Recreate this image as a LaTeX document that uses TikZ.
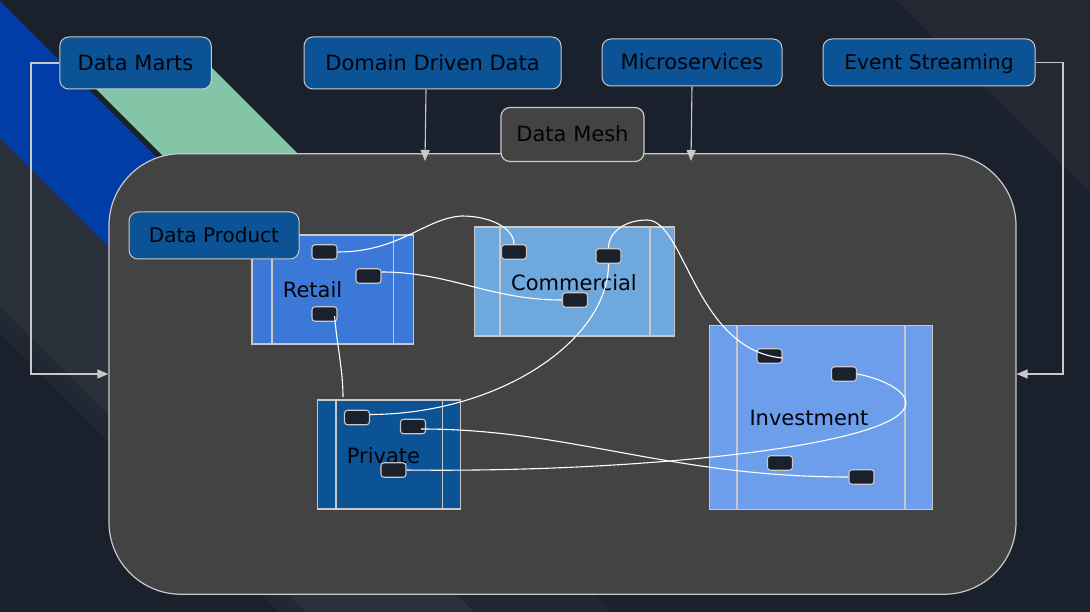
\documentclass[tikz,border=0pt]{standalone}
\usepackage{fontspec}
\setmainfont{DejaVu Sans}
\usetikzlibrary{arrows.meta}
\definecolor{Page}{HTML}{1a202c}
\definecolor{BandA}{HTML}{2a313b}
\definecolor{BandB}{HTML}{222833}
\definecolor{BandC}{HTML}{20262f}
\definecolor{Corner}{HTML}{232833}
\definecolor{Stripe}{HTML}{003da6}
\definecolor{Mint}{HTML}{83c5a6}
\definecolor{Mesh}{HTML}{434343}
\definecolor{Edge}{HTML}{c8c8c8}
\definecolor{Deep}{HTML}{0b5394}
\definecolor{Retail}{HTML}{3c78d8}
\definecolor{Commercial}{HTML}{6fa8dc}
\definecolor{Investment}{HTML}{6d9eeb}
\definecolor{Ink}{HTML}{020308}

\begin{document}
\begin{tikzpicture}[
    x=1pt, y=-1pt,
    >={Triangle[length=11pt, width=9pt]},
    every node/.style={font=\fontsize{21}{25}\selectfont, text=Ink, text height=15.5pt, text depth=0.5pt},
    smallText/.style={font=\fontsize{20.3}{25}\selectfont},
    topKey/.style={draw=Edge, line width=1pt, rounded corners=9pt, fill=Deep, inner sep=0pt},
    meshKey/.style={draw=Edge, line width=1.2pt, rounded corners=9pt, fill=Mesh, inner sep=0pt},
    laneBox/.style={draw=Edge, line width=1.2pt, fill=#1, inner sep=0pt},
    laneLine/.style={draw=Edge, line width=1.1pt},
    portKey/.style={draw=Edge, line width=1.1pt, rounded corners=3pt, fill=Page, minimum width=25pt, minimum height=14.5pt, inner sep=0pt, text height=, text depth=},
    flow/.style={draw=Edge, line width=1.1pt, ->},
    wire/.style={draw=white, line width=1.1pt},
  ]
  \useasboundingbox (0,0) rectangle (1090,612);
  % background
  \fill[Page] (0,0) rectangle (1090,612);
  \fill[BandC] (0,0) -- (612,612) -- (474,612) -- (0,138) -- cycle;
  \fill[BandA] (0,138) -- (474,612) -- (305,612) -- (0,307) -- cycle;
  \fill[BandB] (0,307) -- (305,612) -- (279,612) -- (0,333) -- cycle;
  \fill[Corner] (896,0) -- (1090,0) -- (1090,192) -- cycle;
  \fill[Mint] (181,37) -- (320,176) -- (183,176) -- (77,70) -- cycle;
  \fill[Stripe] (0,1) -- (250,251) -- (150,288) -- (0,138) -- cycle;

  % outer box
  \node[meshKey, rounded corners=72pt, minimum width=907pt, minimum height=440.5pt] (meshBox) at (562.5,374) {};

  % sources
  \node[topKey, minimum width=151.5pt, minimum height=52pt] (dataMarts) at (135.5,63) {Data Marts};
  \node[topKey, minimum width=257pt, minimum height=52pt] (domainData) at (432.5,63) {Domain Driven Data};
  \node[topKey, minimum width=180pt, minimum height=47pt] (microServices) at (692,62.5) {Microservices};
  \node[topKey, smallText, minimum width=212pt, minimum height=47pt] (eventStream) at (929,62.5) {Event Streaming};
  \node[meshKey, minimum width=143pt, minimum height=54pt] (dataMesh) at (572.5,134.5) {Data Mesh};

  % lanes
  \node[laneBox=Retail, minimum width=161.5pt, minimum height=109pt] (retail) at (332.75,289.5) {};
  \node[laneBox=Commercial, minimum width=200pt, minimum height=109pt] (commercial) at (574.75,281.5) {};
  \node[laneBox=Deep, minimum width=143pt, minimum height=109pt] (private) at (389,454.5) {};
  \node[laneBox=Investment, minimum width=223pt, minimum height=184pt] (investment) at (821,417.25) {};
  \draw[laneLine] (272,235) -- (272,344);
  \draw[laneLine] (393.5,235) -- (393.5,344);
  \draw[laneLine] (500,227) -- (500,336);
  \draw[laneLine] (650,227) -- (650,336);
  \draw[laneLine] (336,400) -- (336,509);
  \draw[laneLine] (442.5,400) -- (442.5,509);
  \draw[laneLine] (737,325) -- (737,509);
  \draw[laneLine] (905,325) -- (905,509);
  \node (retailLabel) at (312.5,290) {Retail};
  \node (commercialLabel) at (574,283) {Commercial};
  \node (privateLabel) at (383.5,456) {Private};
  \node (investmentLabel) at (809,418) {Investment};

  % ports
  \node[portKey] (retailA) at (324.5,252) {};
  \node[portKey] (retailB) at (368.5,276) {};
  \node[portKey] (retailC) at (324.5,314) {};
  \node[portKey] (commercialA) at (514,252) {};
  \node[portKey] (commercialB) at (608.5,256) {};
  \node[portKey] (commercialC) at (575,300) {};
  \node[portKey] (privateA) at (357,417.5) {};
  \node[portKey] (privateB) at (413,426.5) {};
  \node[portKey] (privateC) at (393.5,470) {};
  \node[portKey] (investA) at (769.5,356) {};
  \node[portKey] (investB) at (844,374) {};
  \node[portKey] (investC) at (780,463) {};
  \node[portKey] (investD) at (861.5,477) {};

  % wires
  \coordinate (retailEnd) at (343,397);
  \draw[wire] (retailA.east) .. controls (400,252) and (425,218) .. (462,216)
    .. controls (490,216) and (514,228) .. (commercialA.north);
  \draw[wire] ([yshift=4pt]retailB.east) .. controls (450,272) and (490,300) .. (commercialC.west);
  \draw[wire] ([xshift=-3pt,yshift=-2pt]retailC.east) .. controls (337,345) and (343,370) .. (retailEnd);
  \draw[wire] ([yshift=3pt]privateA.east) .. controls (500,414) and (608.5,340) .. (commercialB.south);
  \draw[wire] (commercialB.north) .. controls (608.5,232) and (625,220) .. (647,220)
    .. controls (685,220) and (695,350) .. ([yshift=-2pt]investA.east);
  \draw[wire] ([xshift=-5pt,yshift=-2.5pt]privateB.east) .. controls (570,429) and (670,477) .. (investD.west);
  \draw[wire] (privateC.east) .. controls (640,473) and (906,445) .. (906,403)
    .. controls (906,390) and (880,378) .. (investB.east);

  % flows
  \coordinate (domainTip) at (425,161);
  \coordinate (microTip) at (691,161);
  \coordinate (leftTurn) at (31,374);
  \coordinate (rightTurn) at (1063,374);
  \draw[flow] ([xshift=-6.5pt]domainData.south) -- (domainTip);
  \draw[flow] (microServices.south) -- (microTip);
  \draw[flow] (dataMarts.west) -| (leftTurn) -- (meshBox.west |- leftTurn);
  \draw[flow] (eventStream.east) -| (rightTurn) -- (meshBox.east |- rightTurn);

  % sits over the retail lane
  \node[topKey, font=\fontsize{20}{25}\selectfont, minimum width=170pt, minimum height=47pt] (dataProduct) at (214,235.5) {Data Product};
\end{tikzpicture}
\end{document}
